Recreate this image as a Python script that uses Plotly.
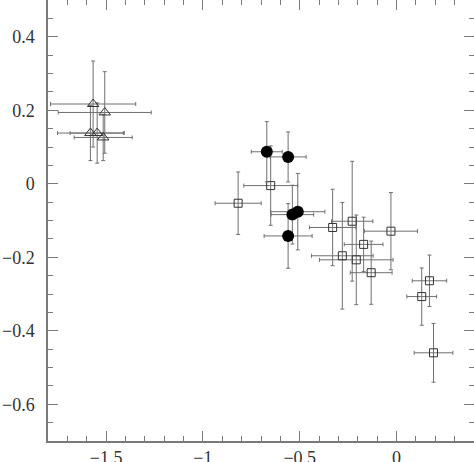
import plotly.graph_objects as go

# Open triangles
tri_x = [-1.567, -1.507, -1.581, -1.546, -1.515]
tri_y = [0.217, 0.194, 0.138, 0.138, 0.126]
tri_xerr = [0.22, 0.24, 0.17, 0.14, 0.15]
tri_yerr = [0.117, 0.111, 0.075, 0.082, 0.063]

# Filled circles
circ_x = [-0.670, -0.560, -0.538, -0.510, -0.560]
circ_y = [0.087, 0.073, -0.084, -0.076, -0.142]
circ_xerr = [0.080, 0.093, 0.110, 0.140, 0.124]
circ_yerr = [0.082, 0.068, 0.080, 0.104, 0.088]

# Open squares
sq_x = [-0.818, -0.650, -0.330, -0.229, -0.029, -0.170, -0.280, -0.208, -0.131, 0.170, 0.130, 0.191]
sq_y = [-0.053, -0.005, -0.119, -0.102, -0.129, -0.165, -0.196, -0.207, -0.242, -0.264, -0.307, -0.460]
sq_xerr = [0.119, 0.139, 0.120, 0.107, 0.137, 0.100, 0.159, 0.190, 0.108, 0.089, 0.077, 0.100]
sq_yerr = [0.085, 0.108, 0.104, 0.163, 0.105, 0.074, 0.145, 0.122, 0.086, 0.070, 0.078, 0.080]

x_range = [-1.8, 0.4]
y_range = [-0.7, 0.5]

ERR = "#707070"
AX = "#7a7a7a"
FONT = dict(family="Liberation Serif", size=18, color="#333")


def errs(arr):
    return dict(type="data", array=arr, visible=True, color=ERR, thickness=1, width=2)


fig = go.Figure()
fig.add_trace(go.Scatter(x=sq_x, y=sq_y, mode="markers",
                         error_x=errs(sq_xerr), error_y=errs(sq_yerr),
                         marker=dict(symbol="square-open", size=8, color="#333", line=dict(width=1))))
fig.add_trace(go.Scatter(x=tri_x, y=tri_y, mode="markers",
                         error_x=errs(tri_xerr), error_y=errs(tri_yerr),
                         marker=dict(symbol="triangle-up-open", size=10, color="#333", line=dict(width=1))))
fig.add_trace(go.Scatter(x=circ_x, y=circ_y, mode="markers",
                         error_x=errs(circ_xerr), error_y=errs(circ_yerr),
                         marker=dict(symbol="circle", size=12, color="black")))
# invisible trace to anchor mirror axes
fig.add_trace(go.Scatter(x=[x_range[0]], y=[y_range[0]], xaxis="x2", yaxis="y2",
                         mode="markers", marker=dict(opacity=0), hoverinfo="skip"))

common = dict(showgrid=False, zeroline=False, showline=True, linecolor=AX, linewidth=1.5,
              ticks="inside", ticklen=10, tickwidth=1.2, tickcolor=AX, automargin=False)

fig.update_layout(
    width=474, height=462, autosize=False,
    margin=dict(l=48, r=0, t=0, b=21),
    paper_bgcolor="white", plot_bgcolor="white",
    showlegend=False, font=FONT,
    xaxis=dict(range=x_range, dtick=0.5, tick0=0, ticklabelstandoff=0,
               minor=dict(dtick=0.1, tick0=0, ticks="inside", ticklen=5, tickcolor=AX, tickwidth=1),
               **common),
    yaxis=dict(range=y_range, dtick=0.2, tick0=0, ticklabelstandoff=8,
               minor=dict(dtick=0.05, tick0=0, ticks="inside", ticklen=5, tickcolor=AX, tickwidth=1),
               **common),
    xaxis2=dict(range=x_range, overlaying="x", side="top", anchor="y2", dtick=0.5, tick0=0,
                showticklabels=False,
                minor=dict(dtick=0.1, tick0=0, ticks="inside", ticklen=5, tickcolor=AX, tickwidth=1),
                **common),
    yaxis2=dict(range=y_range, overlaying="y", side="right", anchor="x2", dtick=0.2, tick0=0,
                showticklabels=False,
                minor=dict(dtick=0.05, tick0=0, ticks="inside", ticklen=5, tickcolor=AX, tickwidth=1),
                **common),
)

fig.write_html("out.html", config={"displayModeBar": False},
               post_script="document.body.style.margin='0';document.body.style.overflow='hidden';")
